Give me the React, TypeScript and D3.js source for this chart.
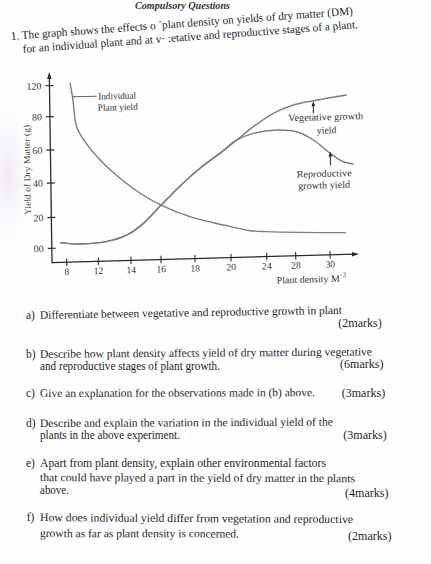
import React from "react";
import * as d3 from "d3";

// ---------- data ----------
const xTicks = [8, 12, 14, 16, 18, 20, 24, 28, 30];
const yTicks = [0, 20, 40, 60, 80, 120];
const yTickLabels = ["00", "20", "40", "60", "80", "120"];

const individualX = [8.75, 9.06, 9.51, 10.53, 12.2, 13.4, 14.67, 16.05, 17.74, 19.6, 22.2, 24.05, 28.27, 30.94];
const individualY = [123, 102.9, 73.5, 64.4, 53.1, 41.7, 32.6, 25.4, 18.0, 12.0, 7.8, 6.9, 5.8, 4.8];

const sharedX = [7.19, 9.3, 12.12, 12.94, 13.96, 14.86, 16.05, 17.14, 18.35, 19.48, 20.84];
const sharedY = [3.5, 2.3, 2.8, 4.3, 8.3, 14.5, 25.4, 35.8, 46.4, 55.2, 62.9];

const vegX = [22.72, 25.2, 27.99, 29.16, 31.11];
const vegY = [70.6, 78.3, 86.3, 91.1, 97.3];

const reproX = [22.71, 25.64, 28.17, 29.13, 30.09, 30.86, 31.45];
const reproY = [66.6, 68.2, 66.8, 61.6, 53.3, 47.9, 46.4];

const headerLines = [
  "The graph shows the effects o \u00B4plant density on yields of dry matter (DM)",
  "for an individual plant and at v\u00B7  :etative and reproductive stages of a plant.",
];

const questionLabels = ["a)", "b)", "c)", "d)", "e)", "f)"];
const questionLines = [
  ["Differentiate between vegetative and reproductive growth in plant"],
  ["Describe how plant density affects yield of dry matter during vegetative", "and reproductive stages of plant growth."],
  ["Give an explanation for the observations made in (b) above."],
  ["Describe and explain the variation in the individual yield of the", "plants in the above experiment."],
  ["Apart from plant density, explain other environmental factors", "that could have played a part in the yield of dry matter in the plants", "above."],
  ["How does individual yield differ from vegetation and reproductive", "growth as far as plant density is concerned."],
];
const questionMarks = ["(2marks)", "(6marks)", "(3marks)", "(3marks)", "(4marks)", "(2marks)"];

// ---------- layout (page positions, not data) ----------
const labelY = [318.8, 357.8, 397.1, 427.1, 466.5, 521.1];
const lineLayout = [
  [{ y: 318.8, r: -0.95, w: 302 }],
  [{ y: 357.8, r: -0.4, w: 332 }, { y: 369.5, r: 0, w: 180 }],
  [{ y: 397.1, r: -0.2, w: 275 }],
  [{ y: 427.1, r: -0.3, w: 293 }, { y: 438.8, r: 0, w: 140 }],
  [{ y: 466.5, r: 0, w: 286 }, { y: 481.1, r: 0.2, w: 315 }, { y: 493.8, r: 0, w: 29 }],
  [{ y: 521.1, r: 0.37, w: 313 }, { y: 537.1, r: 0.1, w: 199 }],
];
const marksLayout = [
  { x: 338.3, y: 327.1 },
  { x: 340, y: 367.8 },
  { x: 341.7, y: 396.5 },
  { x: 343.3, y: 438.9 },
  { x: 345, y: 497.1 },
  { x: 348, y: 539.8 },
];

const SERIF = "'Liberation Serif', 'Times New Roman', 'DejaVu Serif', serif";

export default function App() {
  const x = d3.scaleLinear().domain(xTicks).range([66.7, 98.3, 131, 161, 195, 231, 266.7, 295.7, 330]);
  const y = d3.scaleLinear().domain(yTicks).range([248.3, 217.5, 183, 150, 116.7, 85.7]);

  const line = d3
    .line<[number, number]>()
    .x((d) => x(d[0]))
    .y((d) => y(d[1]))
    .curve(d3.curveCatmullRom.alpha(0.5));

  const zip = (a: number[], b: number[]) => a.map((v, i) => [v, b[i]] as [number, number]);
  const individual = zip(individualX, individualY);
  const shared = zip(sharedX, sharedY);
  const veg = shared.concat(zip(vegX, vegY));
  const repro = shared.concat(zip(reproX, reproY));

  const axisY = 262.6;
  const axisX = 52;
  const curveColor = "#7d7d7d";
  const ink = "#2a2a2a";

  const vegArrowX = x(29.15);
  const reproArrowX = x(30.1);

  return (
    <svg
      width={431}
      height={564}
      viewBox="0 0 431 564"
      style={{ position: "absolute", left: 0, top: 0, background: "#fff" }}
    >
      <defs>
        <radialGradient id="smudge" cx="0.5" cy="0.5" r="0.5">
          <stop offset="0%" stopColor="#ebe4f3" stopOpacity={0.9} />
          <stop offset="100%" stopColor="#ffffff" stopOpacity={0} />
        </radialGradient>
      </defs>
      <rect x={0} y={0} width={431} height={564} fill="#fefefe" />
      <ellipse cx={8} cy={175} rx={28} ry={90} fill="url(#smudge)" />

      {/* top header */}
      <text
        x={135}
        y={8.5}
        fontFamily={SERIF}
        fontSize={10}
        fontWeight="bold"
        fontStyle="italic"
        fill="#333"
        textLength={95}
        lengthAdjust="spacingAndGlyphs"
      >
        Compulsory Questions
      </text>

      {/* question 1 intro */}
      <g transform="translate(11,39.8) rotate(-4.2)" fontFamily={SERIF} fontSize={11.5} fill="#1f1f1f">
        <text x={0} y={0}>1.</text>
        <text x={11} y={0} textLength={332} lengthAdjust="spacingAndGlyphs">
          {headerLines[0]}
        </text>
        <text x={11} y={13.8} textLength={336} lengthAdjust="spacingAndGlyphs">
          {headerLines[1]}
        </text>
      </g>

      {/* chart */}
      <g transform="translate(52,262) matrix(1,-0.028,0.0144,1,0,0) translate(-52,-262)">
        {/* axes */}
        <line x1={axisX} y1={76} x2={axisX} y2={axisY + 0.6} stroke={ink} strokeWidth={1.3} />
        <path d={`M${axisX},72 L${axisX - 2.3},79 L${axisX + 2.3},79 Z`} fill={ink} />
        <line x1={axisX} y1={axisY} x2={355} y2={axisY} stroke={ink} strokeWidth={1.3} />
        <path d={`M359,${axisY} L352,${axisY - 2.3} L352,${axisY + 2.3} Z`} fill={ink} />

        {yTicks.map((t, i) => (
          <g key={"yt" + t}>
            <line x1={axisX - 4} x2={axisX + 4} y1={y(t)} y2={y(t)} stroke={ink} strokeWidth={1.1} />
            <text
              x={44}
              y={y(t)}
              dy="0.35em"
              textAnchor="end"
              fontFamily={SERIF}
              fontSize={10}
              fill="#3a3a3a"
            >
              {yTickLabels[i]}
            </text>
          </g>
        ))}
        {xTicks.map((t) => (
          <g key={"xt" + t}>
            <line x1={x(t)} x2={x(t)} y1={axisY - 3.7} y2={axisY + 3.7} stroke={ink} strokeWidth={1.1} />
            <text
              x={x(t)}
              y={axisY + 12.8}
              textAnchor="middle"
              fontFamily={SERIF}
              fontSize={9.6}
              fill="#3a3a3a"
            >
              {t}
            </text>
          </g>
        ))}

        <text
          transform="translate(28.3,169.3) rotate(-90)"
          textAnchor="middle"
          dy="0.35em"
          fontFamily={SERIF}
          fontSize={9}
          fill="#444"
          textLength={90}
          lengthAdjust="spacingAndGlyphs"
        >
          Yield of Dry Matter (g)
        </text>

        <text x={276.4} y={289.8} fontFamily={SERIF} fontSize={9.8} fill="#333" textLength={63} lengthAdjust="spacingAndGlyphs">
          Plant density M
        </text>
        <text x={340} y={285.5} fontFamily={SERIF} fontSize={7} fill="#333">
          -2
        </text>

        {/* curves */}
        <path d={line(individual) || ""} fill="none" stroke={curveColor} strokeWidth={1.4} />
        <path d={line(veg) || ""} fill="none" stroke={curveColor} strokeWidth={1.4} />
        <path d={line(repro) || ""} fill="none" stroke={curveColor} strokeWidth={1.4} />

        {/* individual label */}
        <line x1={76.5} y1={97.4} x2={99} y2={97.6} stroke="#555" strokeWidth={0.9} />
        <circle cx={76.3} cy={97.4} r={0.9} fill="#666" />
        <text x={100.5} y={100.9} fontFamily={SERIF} fontSize={9.4} fill="#333" textLength={38} lengthAdjust="spacingAndGlyphs">
          Individual
        </text>
        <text x={100} y={112.2} fontFamily={SERIF} fontSize={9.4} fill="#333" textLength={40} lengthAdjust="spacingAndGlyphs">
          Plant yield
        </text>

        {/* vegetative label */}
        <line x1={vegArrowX} y1={120.5} x2={vegArrowX} y2={112} stroke="#222" strokeWidth={1} />
        <path d={`M${vegArrowX},108.6 L${vegArrowX - 1.8},113.5 L${vegArrowX + 1.8},113.5 Z`} fill="#222" />
        <text x={327.6} y={127.9} textAnchor="middle" fontFamily={SERIF} fontSize={9.8} fill="#333" textLength={75} lengthAdjust="spacingAndGlyphs">
          Vegetative growth
        </text>
        <text x={328.4} y={141.2} textAnchor="middle" fontFamily={SERIF} fontSize={9.8} fill="#333">
          yield
        </text>

        {/* reproductive label */}
        <line x1={reproArrowX} y1={173} x2={reproArrowX} y2={163} stroke="#222" strokeWidth={1} />
        <path d={`M${reproArrowX},159.3 L${reproArrowX - 1.8},164.3 L${reproArrowX + 1.8},164.3 Z`} fill="#222" />
        <text x={325.3} y={184.5} textAnchor="middle" fontFamily={SERIF} fontSize={9.8} fill="#333" textLength={55} lengthAdjust="spacingAndGlyphs">
          Reproductive
        </text>
        <text x={325.1} y={196.1} textAnchor="middle" fontFamily={SERIF} fontSize={9.8} fill="#333" textLength={52} lengthAdjust="spacingAndGlyphs">
          growth yield
        </text>
      </g>

      {/* questions */}
      <g fontFamily={SERIF} fontSize={11.5} fill="#1f1f1f">
        {questionLabels.map((lab, i) => (
          <g key={lab}>
            <text x={i === 5 ? 26.7 : 26} y={labelY[i]}>
              {lab}
            </text>
            {questionLines[i].map((s, j) => {
              const L = lineLayout[i][j];
              return (
                <text
                  key={j}
                  x={40}
                  y={L.y}
                  transform={`rotate(${L.r},40,${L.y})`}
                  textLength={L.w}
                  lengthAdjust="spacingAndGlyphs"
                >
                  {s}
                </text>
              );
            })}
            <text x={marksLayout[i].x} y={marksLayout[i].y} textLength={43.5} lengthAdjust="spacingAndGlyphs">
              {questionMarks[i]}
            </text>
          </g>
        ))}
      </g>
    </svg>
  );
}
